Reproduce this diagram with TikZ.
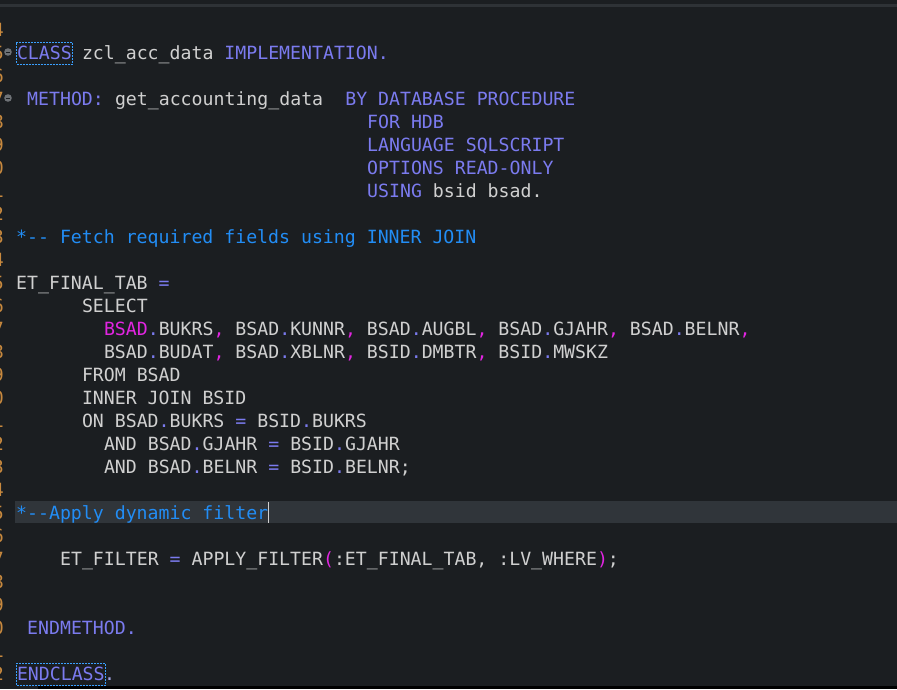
\documentclass[tikz,border=0pt]{standalone}
\usepackage{fontspec}
\setmonofont{DejaVu Sans Mono}
\definecolor{editorbg}{HTML}{1B1E21}
\definecolor{linehl}{HTML}{30353A}
\definecolor{topbar}{HTML}{2E3236}
\definecolor{kwblue}{HTML}{7B7BEF}
\definecolor{idgray}{HTML}{D0D0D0}
\definecolor{cmtblue}{HTML}{228DF5}
\definecolor{pinkmark}{HTML}{E225E2}
\definecolor{linenum}{HTML}{C8893E}
\definecolor{foldgray}{HTML}{6E7276}
\definecolor{matchblue}{HTML}{3AA0FF}
\newcommand\kw[1]{\textcolor{kwblue}{#1}}
\newcommand\pk[1]{\textcolor{pinkmark}{#1}}
\tikzset{
  code/.style={anchor=base west, inner sep=0pt, text=idgray,
    font=\ttfamily\fontsize{18.2}{23}\selectfont},
  kwcode/.style={code, text=kwblue},
  cmtcode/.style={code, text=cmtblue},
  matchbox/.style={kwcode, draw=matchblue, line width=1pt,
    dash pattern=on 2pt off 1pt, inner xsep=0.5pt, text height=17pt, text depth=5pt},
  lnum/.style={anchor=base east, inner sep=0pt, text=linenum,
    font=\ttfamily\fontsize{18.2}{23}\selectfont},
  foldmark/.style={fill=foldgray, draw=none}
}
\begin{document}
\begin{tikzpicture}[x=1pt, y=-1pt]
  \useasboundingbox (0,0) rectangle (897,689);
  \fill[editorbg] (0,0) rectangle (897,689);
  \fill[linehl] (15,501) rectangle (897,523);   % current line
  \fill[black] (38,686) rectangle (897,689);
  % line numbers, cut by the left edge
  \foreach \r in {-1,...,27} {
    \pgfmathtruncatemacro\d{mod(\r+15,10)}
    \node[lnum] (ln\r) at (4,{59+23*\r}) {\d};
  }
  \fill[topbar] (0,4) rectangle (897,7);
  % fold markers
  \fill[foldmark] (8,52) circle (3.8);
  \draw[editorbg, line width=1pt] (5.8,52) -- (10.2,52);
  \fill[foldmark] (8,98) circle (3.8);
  \draw[editorbg, line width=1pt] (5.8,98) -- (10.2,98);
  % class header
  \node[matchbox] (clskw) at (16,59) {CLASS};
  \node[code] (clsname) at (81.8,59) {zcl\_acc\_data \kw{IMPLEMENTATION.}};
  % method header
  \node[kwcode] (methkw) at (27,105) {METHOD:};
  \node[code] (methname) at (114.8,105) {get\_accounting\_data};
  \node[kwcode] (procby) at (345.1,105) {BY DATABASE PROCEDURE};
  \node[kwcode] (procfor) at (367,128) {FOR HDB};
  \node[kwcode] (proclang) at (367,151) {LANGUAGE SQLSCRIPT};
  \node[kwcode] (procopt) at (367,174) {OPTIONS READ-ONLY};
  \node[kwcode] (procuse) at (367,197) {USING \textcolor{idgray}{bsid bsad.}};
  \node[cmtcode] (cmtjoin) at (16,243) {*-- Fetch required fields using INNER JOIN};
  % select statement
  \node[code] (finaltab) at (16,289) {ET\_FINAL\_TAB \kw{=}};
  \node[code] (selkw) at (81.8,312) {SELECT};
  \node[code] (fields1) at (103.8,335) {\pk{BSAD}\kw{.}BUKRS\pk{,} BSAD\kw{.}KUNNR\pk{,} BSAD\kw{.}AUGBL\pk{,} BSAD\kw{.}GJAHR\pk{,} BSAD\kw{.}BELNR\pk{,}};
  \node[code] (fields2) at (103.8,358) {BSAD\kw{.}BUDAT\pk{,} BSAD\kw{.}XBLNR\pk{,} BSID\kw{.}DMBTR\pk{,} BSID\kw{.}MWSKZ};
  \node[code] (fromkw) at (81.8,381) {FROM BSAD};
  \node[code] (joinkw) at (81.8,404) {INNER JOIN BSID};
  \node[code] (oncond) at (81.8,427) {ON BSAD\kw{.}BUKRS \kw{=} BSID\kw{.}BUKRS};
  \node[code] (andgj) at (103.8,450) {AND BSAD\kw{.}GJAHR \kw{=} BSID\kw{.}GJAHR};
  \node[code] (andbel) at (103.8,473) {AND BSAD\kw{.}BELNR \kw{=} BSID\kw{.}BELNR;};
  % filter
  \node[cmtcode] (cmtfilter) at (16,519) {*--Apply dynamic filter};
  \draw[idgray, line width=1.5pt] (268.6,502) -- (268.6,523);   % cursor
  \node[code] (filter) at (59.9,565) {ET\_FILTER \kw{=} APPLY\_FILTER\pk{(}:ET\_FINAL\_TAB, :LV\_WHERE\pk{)};};
  % closing
  \node[kwcode] (endmeth) at (27,634) {ENDMETHOD.};
  \node[matchbox] (endcls) at (16,680) {ENDCLASS};
  \node[code, text=kwblue!55!idgray] (enddot) at (103.8,680) {.};
\end{tikzpicture}
\end{document}
